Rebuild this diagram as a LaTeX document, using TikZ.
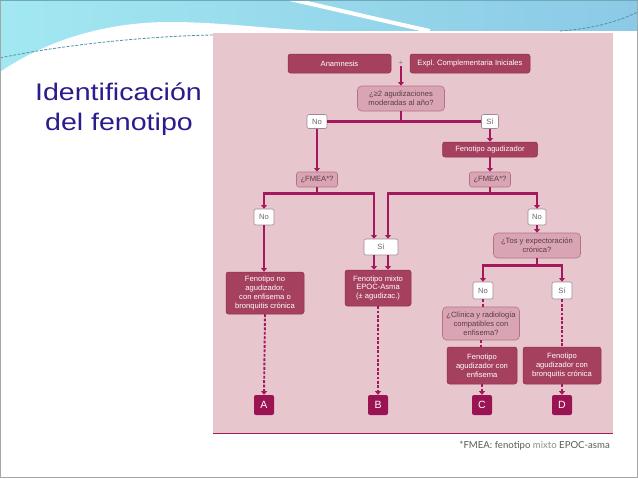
\documentclass[tikz,border=0pt]{standalone}
\usepackage{fontspec}
\setmainfont{Liberation Sans}
\newfontfamily\footfont{Lato}
\usetikzlibrary{arrows.meta,calc}
\definecolor{panel}{HTML}{E8C6CE}
\definecolor{darkbox}{HTML}{A5405F}
\definecolor{darkedge}{HTML}{8E2F4D}
\definecolor{letterbox}{HTML}{9A1352}
\definecolor{linec}{HTML}{A4185C}
\definecolor{qfill}{HTML}{D9A5B4}
\definecolor{qdraw}{HTML}{B27387}
\definecolor{qtext}{HTML}{5B3B47}
\definecolor{wdraw}{HTML}{A08A93}
\definecolor{titlec}{HTML}{2A1C8C}
\definecolor{cyanL}{HTML}{A2E8F1}
\definecolor{cyanR}{HTML}{8CC9E6}
\definecolor{tealdash}{HTML}{4E93A8}
\tikzset{
  base/.style={font=\fontsize{7.6}{8.8}\selectfont, align=center, inner sep=1pt},
  darkn/.style={base, fill=darkbox, draw=darkedge, line width=0.5pt, rounded corners=2.5pt, text=white},
  qn/.style={base, fill=qfill, draw=qdraw, line width=0.6pt, rounded corners=4pt, text=qtext},
  wn/.style={base, fill=white, draw=wdraw, line width=0.6pt, rounded corners=2pt, text=black!60},
  lettern/.style={fill=letterbox, rounded corners=2pt, text=white, minimum width=20pt, minimum height=20pt, inner sep=0pt, font=\fontsize{10.5}{10.5}\selectfont},
  ln/.style={draw=linec, line width=2.4pt},
  lna/.style={ln, -{Triangle[length=3.6pt,width=5.8pt]}},
  dl/.style={draw=linec, line width=1.9pt, dash pattern=on 2.8pt off 1.6pt},
  dla/.style={dl, -{Triangle[length=3.6pt,width=5.8pt]}},
}
\begin{document}
\begin{tikzpicture}[x=1pt,y=-1pt]
\useasboundingbox (0,0) rectangle (638,479);
% slide background
\fill[white] (0,0) rectangle (638,479);
\shade[left color=cyanL, right color=cyanR] (0,0) rectangle (638,75);
\fill[white] (0,72) .. controls (50,38) and (110,22) .. (170,22) .. controls (230,22) and (290,32) .. (340,31) -- (638,31) -- (638,479) -- (0,479) -- cycle;
\draw[white, line width=4pt] (285,-2) .. controls (330,8) and (380,20) .. (430,31);
\draw[tealdash, line width=0.8pt, dash pattern=on 3pt off 1.5pt] (0,58) .. controls (60,45) and (150,36) .. (213,35);
\draw[tealdash, line width=0.8pt, dash pattern=on 3pt off 1.5pt] (560,31) .. controls (600,28) and (620,20) .. (638,12);
\draw[gray!70, line width=0.8pt] (0.5,0) -- (0.5,477.5) -- (637.5,477.5) -- (637.5,0);
\draw[tealdash!80, line width=0.8pt] (0,0.4) -- (638,0.4);
% title
\node[text=titlec, font=\fontsize{24}{28}\selectfont] (t1) at (118.5,92) {\scalebox{1.19}[1]{Identificación}};
\node[text=titlec, font=\fontsize{24}{28}\selectfont] (t2) at (119,124) {\scalebox{1.19}[1]{del fenotipo}};
% panel
\fill[panel] (213,33) rectangle (613,433);
\draw[linec, line width=0.8pt] (213,433) -- (613,433);
% nodes
\node[darkn, minimum width=103pt, minimum height=19pt] (anam) at (339.5,63.5) {Anamnesis};
\node[darkn, minimum width=120pt, minimum height=19pt] (expl) at (470,63.5) {Expl. Complementaria Iniciales};
\node[text=black!50, font=\fontsize{8}{8}\selectfont, inner sep=0.5pt] (plus) at (401,63) {+};
\node[qn, minimum width=87pt, minimum height=25pt] (q1) at (401,98.5) {¿≥2 agudizaciones\\moderadas al año?};
\node[wn, minimum width=20pt, minimum height=14pt] (no1) at (317,121.5) {No};
\node[wn, minimum width=17pt, minimum height=14pt] (si1) at (490,121.5) {Sí};
\node[darkn, minimum width=95pt, minimum height=15pt] (fagud) at (490,149.5) {Fenotipo agudizador};
\node[qn, minimum width=41pt, minimum height=15pt, rounded corners=2.5pt] (fmea1) at (317,179.5) {¿FMEA*?};
\node[qn, minimum width=41pt, minimum height=15pt, rounded corners=2.5pt] (fmea2) at (490,179.5) {¿FMEA*?};
\node[wn, minimum width=20pt, minimum height=16pt] (no2) at (264,217) {No};
\node[wn, minimum width=34pt, minimum height=16pt] (si2) at (381,247) {Sí};
\node[wn, minimum width=18pt, minimum height=16pt] (no3) at (537,217) {No};
\node[qn, minimum width=87pt, minimum height=25pt] (tos) at (537,245.5) {¿Tos y expectoración\\crónica?};
\node[darkn, minimum width=78pt, minimum height=42pt] (fnoag) at (265,293) {Fenotipo no\\agudizador,\\con enfisema o\\bronquitis crónica};
\node[darkn, minimum width=66pt, minimum height=36pt] (fmixto) at (378,288) {Fenotipo mixto\\EPOC-Asma\\(± agudizac.)};
\node[wn, minimum width=20pt, minimum height=17pt] (no4) at (483,290.5) {No};
\node[wn, minimum width=20pt, minimum height=17pt] (si4) at (562,290.5) {Sí};
\node[qn, minimum width=77pt, minimum height=33pt, inner sep=0pt] (clin) at (481,323.5) {¿Clínica y radiología\\compatibles con\\enfisema?};
\node[darkn, minimum width=70pt, minimum height=37pt] (fenf) at (482,365.5) {Fenotipo\\agudizador con\\enfisema};
\node[darkn, minimum width=78pt, minimum height=37pt] (fbro) at (562,365.5) {Fenotipo\\agudizador con\\bronquitis crónica};
\node[lettern] (A) at (264,405) {A};
\node[lettern] (B) at (378,405) {B};
\node[lettern] (C) at (482,405) {C};
\node[lettern] (D) at (562,405) {D};
% footnote
\node[anchor=east, text=black!65, font=\footfont\fontsize{9.6}{10}\selectfont, inner sep=0pt] (foot) at (610,446) {*FMEA: fenotipo {\color{black!45}mixto} EPOC-asma};
% connectors
\draw[lna] (plus.south) -- (q1.north);
\draw[ln] (q1.south) -- (q1.south |- no1.east);
\draw[ln] (no1.east) -- (si1.west);
\draw[lna] (no1.south) -- (fmea1.north);
\draw[lna] (si1.south) -- (fagud.north);
\draw[lna] (fagud.south) -- (fmea2.north);
\coordinate (h1) at ($(fmea1.south)+(0,6)$);
\coordinate (h2) at ($(fmea2.south)+(0,6)$);
\coordinate (s2a) at ($(si2.north)+(-7,0)$);
\coordinate (s2b) at ($(si2.north)+(7,0)$);
\coordinate (s2c) at ($(si2.south)+(-7,0)$);
\coordinate (s2d) at ($(si2.south)+(7,0)$);
\draw[ln] (fmea1.south) -- (h1);
\draw[lna] (h1) -| (no2.north);
\draw[lna] (h1) -| (s2a);
\draw[ln] (fmea2.south) -- (h2);
\draw[lna] (h2) -| (s2b);
\draw[lna] (h2) -| (no3.north);
\draw[lna] (no3.south) -- (tos.north);
\draw[lna] (no2.south) -- (no2.south |- fnoag.north);
\draw[lna] (s2c) -- (s2c |- fmixto.north);
\draw[lna] (s2d) -- (s2d |- fmixto.north);
\coordinate (h3) at ($(tos.south)+(0,7)$);
\draw[ln] (tos.south) -- (h3);
\draw[lna] (h3) -| (no4.north);
\draw[lna] (h3) -| (si4.north);
\draw[dl] (no4.south) -- (no4.south |- clin.north);
\draw[dl] (clin.south) -- (clin.south |- fenf.north);
\draw[dl] (si4.south) -- (fbro.north);
\draw[dla] (fnoag.south) -- (A.north);
\draw[dla] (fmixto.south) -- (B.north);
\draw[dla] (fenf.south) -- (C.north);
\draw[dla] (fbro.south) -- (D.north);
\end{tikzpicture}
\end{document}
